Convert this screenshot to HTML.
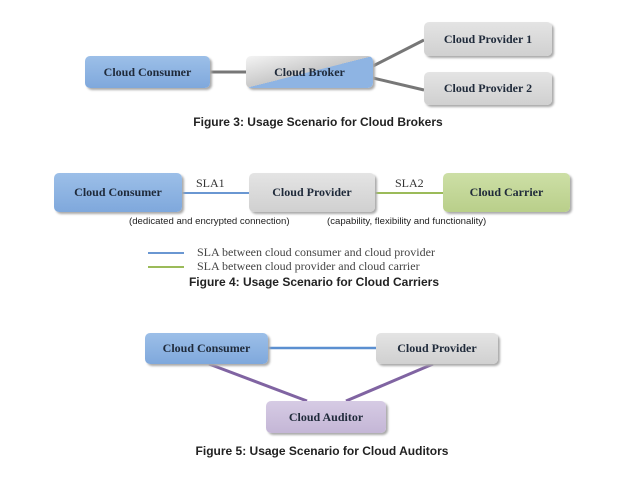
<!DOCTYPE html>
<html><head><meta charset="utf-8"><style>
html,body{margin:0;padding:0;background:#fff;}
.b{position:absolute;border-radius:5px;box-shadow:2px 2px 2px #aaa;display:flex;align-items:center;justify-content:center;font:bold 12px "Liberation Serif",serif;color:#1f2a3a;}
.bl{background:linear-gradient(#9cbfe8,#7fa8dc);}
.gr{background:linear-gradient(#e4e4e4,#d0d0d0);}
.gn{background:linear-gradient(#cddfa6,#b9cf8a);}
.pu{background:linear-gradient(#d6cbe4,#c4b6d6);}
.cap{position:absolute;font:bold 12px "Liberation Sans",sans-serif;color:#222;white-space:nowrap;transform:translateX(-50%);}
.t{position:absolute;white-space:nowrap;}
</style></head><body>
<div style="position:relative;width:638px;height:479px;overflow:hidden;">
<svg width="638" height="479" style="position:absolute;left:0;top:0">
<line x1="210" y1="72" x2="246" y2="72" stroke="#777" stroke-width="3"/>
<line x1="373" y1="66" x2="424" y2="40" stroke="#777" stroke-width="3"/>
<line x1="373" y1="78" x2="424" y2="90" stroke="#777" stroke-width="3"/>
<line x1="182" y1="193" x2="249" y2="193" stroke="#6a97d2" stroke-width="2"/>
<line x1="375" y1="193" x2="443" y2="193" stroke="#9bbb59" stroke-width="2"/>
<line x1="148" y1="253" x2="184" y2="253" stroke="#6a97d2" stroke-width="2"/>
<line x1="148" y1="267" x2="184" y2="267" stroke="#9bbb59" stroke-width="2"/>
<line x1="268" y1="348" x2="376" y2="348" stroke="#5b8fd0" stroke-width="2.5"/>
<line x1="209" y1="364" x2="307" y2="401" stroke="#8064a2" stroke-width="3"/>
<line x1="433" y1="364" x2="346" y2="401" stroke="#8064a2" stroke-width="3"/>
</svg>

<div class="b bl" style="left:85px;top:56px;width:125px;height:32px;">Cloud Consumer</div>
<div class="b" style="left:246px;top:56px;width:127px;height:32px;background:linear-gradient(to bottom right,#f4f4f4 0%,#c8c8c8 50%,#8eb4e3 50%,#8eb4e3 100%);">Cloud Broker</div>
<div class="b gr" style="left:424px;top:22px;width:128px;height:34px;">Cloud Provider 1</div>
<div class="b gr" style="left:424px;top:72px;width:128px;height:33px;">Cloud Provider 2</div>
<div class="cap" style="left:318px;top:115px;">Figure 3: Usage Scenario for Cloud Brokers</div>

<div class="b bl" style="left:54px;top:173px;width:128px;height:39px;">Cloud Consumer</div>
<div class="b gr" style="left:249px;top:173px;width:126px;height:39px;">Cloud Provider</div>
<div class="b gn" style="left:443px;top:173px;width:127px;height:39px;">Cloud Carrier</div>
<div class="t" style="left:196px;top:176px;font:12px 'Liberation Serif',serif;color:#333;">SLA1</div>
<div class="t" style="left:395px;top:176px;font:12px 'Liberation Serif',serif;color:#333;">SLA2</div>
<div class="t" style="left:129px;top:216px;font:9.6px 'Liberation Sans',sans-serif;color:#222;">(dedicated and encrypted connection)</div>
<div class="t" style="left:327px;top:216px;font:9.6px 'Liberation Sans',sans-serif;color:#222;">(capability, flexibility and functionality)</div>
<div class="t" style="left:197px;top:245px;font:12px 'Liberation Serif',serif;color:#444;">SLA between cloud consumer and cloud provider</div>
<div class="t" style="left:197px;top:259px;font:12px 'Liberation Serif',serif;color:#444;">SLA between cloud provider and cloud carrier</div>
<div class="cap" style="left:314px;top:275px;">Figure 4: Usage Scenario for Cloud Carriers</div>

<div class="b bl" style="left:145px;top:333px;width:123px;height:31px;">Cloud Consumer</div>
<div class="b gr" style="left:376px;top:333px;width:122px;height:31px;">Cloud Provider</div>
<div class="b pu" style="left:266px;top:401px;width:120px;height:32px;">Cloud Auditor</div>
<div class="cap" style="left:322px;top:444px;">Figure 5: Usage Scenario for Cloud Auditors</div>
</div>
</body></html>
